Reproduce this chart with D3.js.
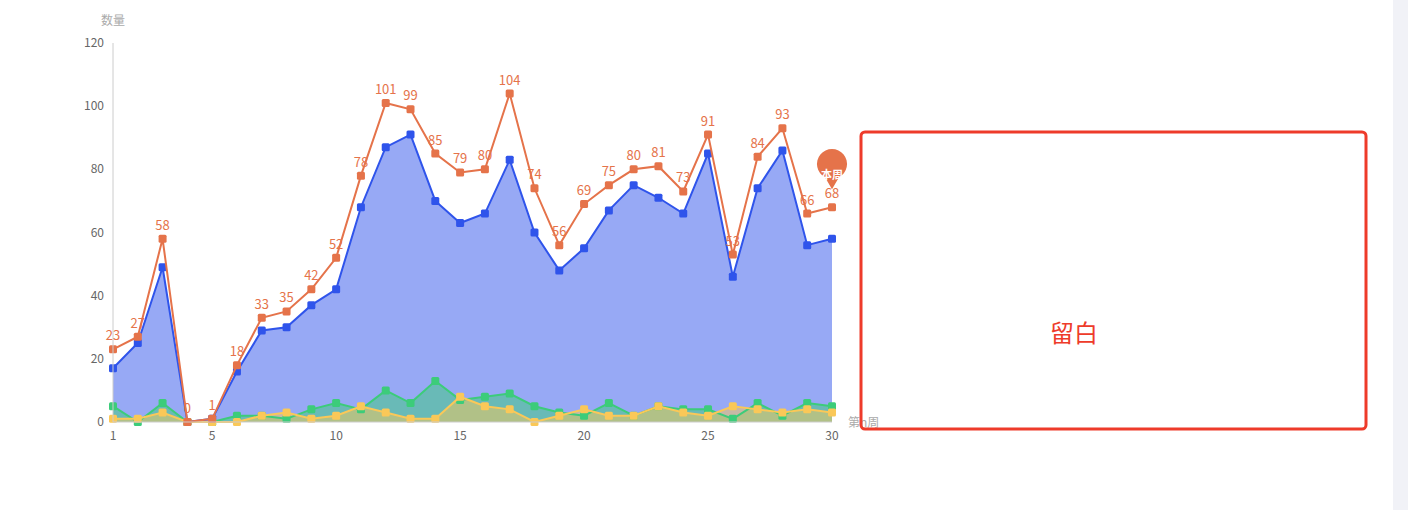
<!DOCTYPE html>
<html><head><meta charset="utf-8">
<script src="https://cdn.jsdelivr.net/npm/d3@7.9.0/dist/d3.min.js"></script>
<style>body{margin:0;background:#fff;font-family:"Noto Sans CJK SC","Noto Sans",sans-serif}</style>
</head><body>
<svg id="chart" width="1408" height="510"></svg>
<script>
const weeks = d3.range(1, 31);
const total = [23,27,58,0,1,18,33,35,42,52,78,101,99,85,79,80,104,74,56,69,75,80,81,73,91,53,84,93,66,68];
const blue = [17,25,49,0,1,16,29,30,37,42,68,87,91,70,63,66,83,60,48,55,67,75,71,66,85,46,74,86,56,58];
const green = [5,0,6,0,0,2,2,1,4,6,4,10,6,13,7,8,9,5,3,2,6,2,5,4,4,1,6,2,6,5];
const yellow = [1,1,3,0,0,0,2,3,1,2,5,3,1,1,8,5,4,0,2,4,2,2,5,3,2,5,4,3,4,3];
const xTicks = [1,5,10,15,20,25,30];
const yTicks = [0,20,40,60,80,100,120];

const svg = d3.select('#chart');
svg.append('rect').attr('x',1393).attr('y',0).attr('width',15).attr('height',510).attr('fill','#f1f2f7');

const x = d3.scaleLinear().domain([1,30]).range([113,832]);
const y = d3.scaleLinear().domain([0,120]).range([422,43]);

const area = d => d3.area().x((v,i)=>x(weeks[i])).y0(y(0)).y1(v=>y(v))(d);
const line = d => d3.line().x((v,i)=>x(weeks[i])).y(v=>y(v))(d);

const series = [
  {data: blue, color:'#2f54eb', fill:'rgba(47,84,235,0.5)'},
  {data: green, color:'#3ccc7a', fill:'rgba(60,204,122,0.5)'},
  {data: yellow, color:'#fac858', fill:'rgba(250,200,88,0.5)'},
  {data: total, color:'#e5734a', fill:null}
];
series.forEach(s => { if (s.fill) svg.append('path').attr('d', area(s.data)).attr('fill', s.fill); });
series.forEach(s => {
  svg.append('path').attr('d', line(s.data)).attr('fill','none').attr('stroke',s.color).attr('stroke-width',2);
  svg.append('g').selectAll('rect').data(s.data).join('rect')
    .attr('x',(v,i)=>x(weeks[i])-4).attr('y',v=>y(v)-4).attr('width',8).attr('height',8).attr('rx',1.5)
    .attr('fill',s.color);
});

// axes
svg.append('line').attr('x1',113).attr('x2',113).attr('y1',43).attr('y2',422).attr('stroke','#ccc');
svg.append('line').attr('x1',113).attr('x2',832).attr('y1',422).attr('y2',422).attr('stroke','#ccc');
svg.append('g').selectAll('text').data(yTicks).join('text')
  .attr('x',104).attr('y',d=>y(d)+4).attr('text-anchor','end').attr('font-size',12).attr('fill','#666').text(d=>d);
svg.append('g').selectAll('text').data(xTicks).join('text')
  .attr('x',d=>x(d)).attr('y',440).attr('text-anchor','middle').attr('font-size',12).attr('fill','#666').text(d=>d);
svg.append('text').attr('x',113).attr('y',25).attr('text-anchor','middle').attr('font-size',12).attr('fill','#aaa').text('数量');
svg.append('text').attr('x',848).attr('y',427).attr('font-size',12).attr('fill','#aaa').text('第n周');

// labels
svg.append('g').selectAll('text').data(total).join('text')
  .attr('x',(v,i)=>x(weeks[i])).attr('y',v=>y(v)-9).attr('text-anchor','middle')
  .attr('font-size',13).attr('fill','#e5734a').text(v=>v);

// pin
const px = x(30), py = y(total[29]) - 26;
svg.append('path').attr('d',`M${px},${py+20} L${px-7},${py+8} A15,15 0 1 1 ${px+7},${py+8} Z`)
  .attr('transform',`translate(0,-12)`).attr('fill','#e5734a');
svg.append('text').attr('x',px).attr('y',py-2).attr('text-anchor','middle').attr('font-size',11)
  .attr('font-weight','bold').attr('fill','#fff').text('本周');

// placeholder box
svg.append('rect').attr('x',861).attr('y',132).attr('width',505).attr('height',297).attr('rx',4)
  .attr('fill','none').attr('stroke','#ee3b2a').attr('stroke-width',3);
svg.append('text').attr('x',1074).attr('y',342).attr('text-anchor','middle').attr('font-size',24)
  .attr('fill','#ee3b2a').text('留白');
</script>
</body></html>
